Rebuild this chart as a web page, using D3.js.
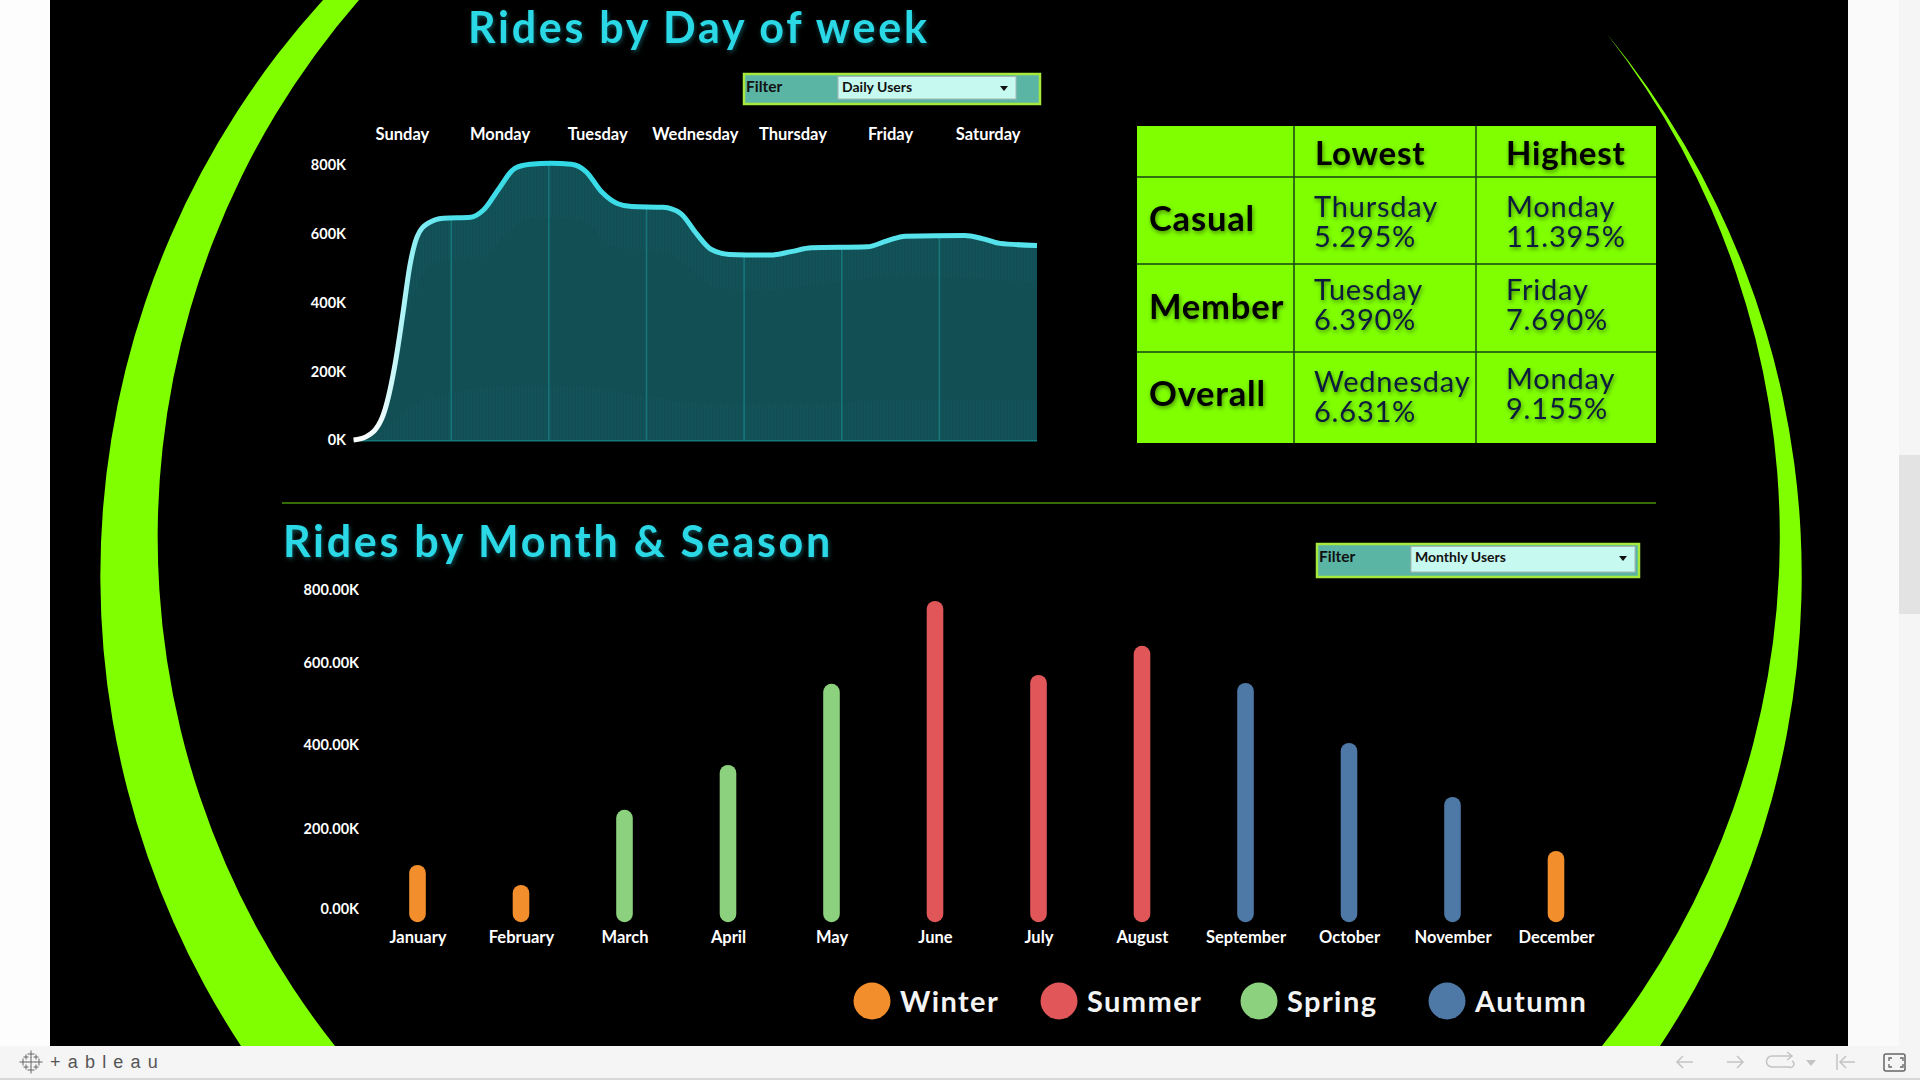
<!DOCTYPE html>
<html>
<head>
<meta charset="utf-8">
<script src="https://cdn.jsdelivr.net/npm/d3@7"></script>
<style>
	html, body { margin: 0; padding: 0; background: #fdfdfd; overflow: hidden; }
	svg { display: block; }
	text { font-family: Lato, sans-serif; }
	.axis text { fill: #fff; font-weight: 700; font-size: 16.5px; }
	.yaxis text { fill: #fff; font-weight: 700; font-size: 14.5px; }
	.title { fill: #2bd8e6; font-weight: 700; font-size: 43px; letter-spacing: 2.7px; filter: drop-shadow(1px 2px 2px rgba(43,216,230,.35)); }
	.cell { filter: drop-shadow(1px 2px 2px rgba(0,0,0,.45)); }
</style>
</head>
<body>
<svg id="board" width="1920" height="1080"></svg>
<script>
// top chart: position along the week (0 = start of Sunday, 7 = end of Saturday)
var ridePos = [0, 0.13, 0.29, 0.42, 0.5, 0.58, 0.65, 0.76, 0.92, 1.2, 1.33, 1.49, 1.65, 1.81, 2.02, 2.23, 2.38, 2.54, 2.7, 2.85, 3.17, 3.35, 3.51, 3.66, 3.85, 4.27, 4.48, 4.69, 5.26, 5.47, 5.65, 6.26, 6.44, 6.62, 7];
var rideVals = [2, 12, 65, 215, 360, 515, 593, 632, 647, 650, 671, 734, 792, 804, 807, 804, 783, 724, 690, 681, 679, 661, 603, 557, 542, 540, 550, 561, 564, 582, 595, 597, 588, 574, 568];

// faint layers inside the area
var casualPos = [0, 0.15, 0.29, 0.55, 0.82, 1.8, 2.34, 2.9, 3.7, 4.5, 5.5, 6.3, 7];
var casualVals = [0, 5, 30, 95, 128, 162, 158, 133, 108, 108, 118, 118, 118];
var memberPos = [0, 0.29, 0.45, 0.6, 0.82, 1.34, 1.6, 1.86, 2.33, 2.65, 3.22, 3.69, 4.11, 4.63, 5.52, 6.31, 7];
var memberVals = [0, 40, 220, 400, 515, 535, 612, 647, 642, 564, 545, 448, 438, 448, 477, 472, 458];

var days = ["Sunday", "Monday", "Tuesday", "Wednesday", "Thursday", "Friday", "Saturday"];
var dayTicks = [0, 200, 400, 600, 800];

// bottom chart
var months = ["January", "February", "March", "April", "May", "June", "July", "August", "September", "October", "November", "December"];
var monthVals = [102, 52, 240, 352, 555, 762, 577, 650, 557, 407, 272, 137];
var monthSeason = ["Winter", "Winter", "Spring", "Spring", "Spring", "Summer", "Summer", "Summer", "Autumn", "Autumn", "Autumn", "Winter"];
var monthTicks = [0, 200, 400, 600, 800];

var seasons = ["Winter", "Summer", "Spring", "Autumn"];
var seasonColors = ["#f28e2b", "#e15759", "#8cd17d", "#4e79a7"];

// table
var tableCols = ["", "Lowest", "Highest"];
var tableRows = ["Casual", "Member", "Overall"];
var lowDays = ["Thursday", "Tuesday", "Wednesday"];
var lowPct = ["5.295%", "6.390%", "6.631%"];
var highDays = ["Monday", "Friday", "Monday"];
var highPct = ["11.395%", "7.690%", "9.155%"];

const LIME = "#7fff00";
var svg = d3.select("#board");
var defs = svg.append("defs");

// page chrome
svg.append("rect").attr("x", 50).attr("width", 1798).attr("height", 1046).attr("fill", "#000");
svg.append("rect").attr("x", 1848).attr("width", 51).attr("height", 1046).attr("fill", "#fafafa");
svg.append("rect").attr("x", 1899).attr("width", 21).attr("height", 1046).attr("fill", "#f5f5f5");
svg.append("rect").attr("x", 1899).attr("y", 455).attr("width", 21).attr("height", 159).attr("fill", "#e3e3e3");

// crescents
svg.append("path").attr("fill", LIME)
	.attr("d", "M323,0 A856,856 0 0 0 241,1046 L335,1046 A818,818 0 0 1 359,0 Z");
svg.append("path").attr("fill", LIME)
	.attr("d", "M1607,34 A851,851 0 0 1 1660,1046 L1602,1046 A818,818 0 0 0 1607,34 Z");

function draw_filter(x, y, w, h, selx, label)	{
	var g = svg.append("g");
	g.append("rect").attr("x", x + 1).attr("y", y + 1).attr("width", w - 2).attr("height", h - 2)
		.attr("fill", "#5bb5a5").attr("stroke", "#a6e83c").attr("stroke-width", 2.5);
	g.append("rect").attr("x", selx).attr("y", y + 3.5).attr("width", x + w - 5 - selx - (w > 310 ? 0 : 20)).attr("height", h - 9.5)
		.attr("fill", "#c6f9f0").attr("stroke", "#a9b5b3");
	g.append("text").attr("x", x + 3).attr("y", y + 19).attr("font-size", 15.5).attr("font-weight", 700).attr("fill", "#111").text("Filter");
	g.append("text").attr("x", selx + 4).attr("y", y + 19).attr("font-size", 14).attr("font-weight", 700).attr("fill", "#111").text(label);
	var ax = x + w - 5 - (w > 310 ? 0 : 20) - 12;
	g.append("path").attr("fill", "#111").attr("d", `M${ax - 4},${y + 13} h8 l-4,5 Z`);
}

// ---- rides by day of week ----
svg.append("text").attr("class", "title").attr("x", 468).attr("y", 42.5).text("Rides by Day of week");
draw_filter(743, 73, 298, 32, 838, "Daily Users");

var dx = d3.scaleLinear([0, 7], [353.6, 1037]);
var dy = d3.scaleLinear([0, 800], [440.7, 165.7]);
var dband = d3.scaleBand(days, [353.6, 1037]);

var rows = ridePos.map((p, i) => ({ p: p, v: rideVals[i] }));
var casualRows = casualPos.map((p, i) => ({ p: p, v: casualVals[i] }));
var memberRows = memberPos.map((p, i) => ({ p: p, v: memberVals[i] }));
var area = d3.area().x(d => dx(d.p)).y0(dy(0)).y1(d => dy(d.v)).curve(d3.curveMonotoneX);
var line = d3.line().x(d => dx(d.p)).y(d => dy(d.v)).curve(d3.curveMonotoneX);

var stripes = defs.append("pattern").attr("id", "stripes").attr("patternUnits", "userSpaceOnUse").attr("width", 3.2).attr("height", 10);
stripes.append("rect").attr("width", 1.2).attr("height", 10).attr("fill", "#1c7076").attr("opacity", .14);

var grad = defs.append("linearGradient").attr("id", "linegrad").attr("gradientUnits", "userSpaceOnUse")
	.attr("x1", dx(0)).attr("x2", dx(7)).attr("y1", 0).attr("y2", 0);
[[0, "#ffffff"], [.04, "#eefcfd"], [.09, "#8eeef3"], [.14, "#4fe2ec"], [.28, "#2dd8e4"], [.4, "#3fdde8"], [.55, "#56e3ec"], [1, "#56e3ec"]].forEach(s => {
	grad.append("stop").attr("offset", s[0]).attr("stop-color", s[1]);
});

// the picture has a striped top band and foot band, plain in between
[[rows, true], [memberRows, false], [casualRows, true]].forEach(l => {
	svg.append("path").datum(l[0]).attr("fill", "#114f55").attr("d", area);
	if(l[1])
		svg.append("path").datum(l[0]).attr("fill", "url(#stripes)").attr("d", area);
});

var cut = days.slice(1).map((d, i) => i + 1);
var gridTop = p => {
	var i = d3.bisector(d => d.p).left(rows, p);
	return dy(rows[Math.min(i, rows.length - 1)].v);
};
svg.selectAll(".dayline").data(cut).join("line").attr("class", "dayline")
	.attr("x1", d => dx(d)).attr("x2", d => dx(d))
	.attr("y1", d => gridTop(d)).attr("y2", dy(0))
	.attr("stroke", "#17787c").attr("stroke-width", 1.5);
svg.append("line").attr("x1", dx(0)).attr("x2", dx(7)).attr("y1", dy(0)).attr("y2", dy(0))
	.attr("stroke", "#17787c").attr("stroke-width", 1.5);
svg.append("path").datum(rows).attr("fill", "none").attr("stroke", "url(#linegrad)").attr("stroke-width", 5).attr("d", line);

svg.append("g").attr("class", "yaxis").attr("transform", "translate(352,-0.5)")
	.call(d3.axisLeft(dy).tickValues(dayTicks).tickSize(0).tickPadding(6).tickFormat(d => d + "K"))
	.call(g => g.select(".domain").remove());
svg.append("g").attr("class", "axis").attr("transform", "translate(0,140)")
	.call(d3.axisTop(dband).tickSize(0).tickPadding(0))
	.call(g => g.select(".domain").remove());

// ---- table ----
var colX = [1137, 1294, 1476, 1656];
var rowY = [126, 177, 264, 352, 443];
var tg = svg.append("g");
tg.append("rect").attr("x", colX[0]).attr("y", rowY[0]).attr("width", colX[3] - colX[0]).attr("height", rowY[4] - rowY[0]).attr("fill", LIME);
tg.selectAll(".vrule").data(colX.slice(1, 3)).join("line").attr("x1", d => d).attr("x2", d => d)
	.attr("y1", rowY[0]).attr("y2", rowY[4]).attr("stroke", "#16401a").attr("stroke-width", 1.5);
tg.selectAll(".hrule").data(rowY.slice(1, 4)).join("line").attr("y1", d => d).attr("y2", d => d)
	.attr("x1", colX[0]).attr("x2", colX[3]).attr("stroke", "#16401a").attr("stroke-width", 1.5);

function cell(x, y, size, weight, color, str)	{
	tg.append("text").attr("class", "cell").attr("x", x).attr("y", y).attr("font-size", size)
		.attr("font-weight", weight).attr("fill", color).attr("letter-spacing", .8).text(str);
}
cell(1315, 165, 33, 700, "#000", tableCols[1]);
cell(1506, 165, 33, 700, "#000", tableCols[2]);
var labelBase = [231, 319, 406];
var lowBase = [217, 300, 392];
var highBase = [217, 300, 389];
tableRows.forEach((r, i) => {
	cell(1149, labelBase[i], 34.5, 700, "#000", r);
	cell(1314, lowBase[i], 29, 400, "#0c1c3c", lowDays[i]);
	cell(1314, lowBase[i] + 30, 29, 400, "#0c1c3c", lowPct[i]);
	cell(1506, highBase[i], 29, 400, "#0c1c3c", highDays[i]);
	cell(1506, highBase[i] + 30, 29, 400, "#0c1c3c", highPct[i]);
});

svg.append("line").attr("x1", 282).attr("x2", 1656).attr("y1", 503).attr("y2", 503)
	.attr("stroke", "#6ad808").attr("stroke-width", 1.2);

// ---- rides by month ----
svg.append("text").attr("class", "title").attr("x", 283).attr("y", 557).text("Rides by Month & Season");
draw_filter(1316, 543, 324, 35, 1411, "Monthly Users");

var mx = d3.scalePoint(months, [417.5, 1556]);
var my = d3.scaleLinear([0, 800], [914, 594]);
// tick labels are not evenly spaced in the picture, so the axis gets its own scale
var mtick = d3.scaleLinear(monthTicks, [909, 829, 745, 663, 590]);
var season = d3.scaleOrdinal(seasons, seasonColors);

svg.selectAll(".bar").data(months).join("line").attr("class", "bar")
	.attr("x1", d => mx(d)).attr("x2", d => mx(d))
	.attr("y1", my(0))
	.attr("y2", (d, i) => my(monthVals[i]))
	.attr("stroke", (d, i) => season(monthSeason[i]))
	.attr("stroke-width", 16.6).attr("stroke-linecap", "round");

svg.append("g").attr("class", "yaxis").attr("transform", "translate(365,0)")
	.call(d3.axisLeft(mtick).tickValues(monthTicks).tickSize(0).tickPadding(6).tickFormat(d => d.toFixed(2) + "K"))
	.call(g => g.select(".domain").remove());
svg.append("g").attr("class", "axis").attr("transform", "translate(0,931)")
	.call(d3.axisBottom(mx).tickSize(0).tickPadding(0))
	.call(g => g.select(".domain").remove());

// legend
var legX = d3.scaleOrdinal(seasons, [872, 1059, 1259, 1447]);
var leg = svg.selectAll(".leg").data(seasons).join("g").attr("class", "leg")
	.attr("transform", d => `translate(${legX(d)},1001)`);
leg.append("circle").attr("r", 18.5).attr("fill", d => season(d));
leg.append("text").attr("x", 28).attr("y", 11).attr("font-size", 29).attr("font-weight", 700)
	.attr("letter-spacing", 1.4).attr("fill", "#f4f4f4").text(d => d);

// ---- tableau footer ----
var foot = svg.append("g");
foot.append("rect").attr("y", 1046).attr("width", 1920).attr("height", 32).attr("fill", "#f5f5f5");
foot.append("rect").attr("y", 1078).attr("width", 1920).attr("height", 2).attr("fill", "#d8d8d8");
foot.append("text").attr("x", 50).attr("y", 1068).attr("font-size", 18).attr("letter-spacing", 7.2)
	.attr("style", "font-family:'Liberation Sans'").attr("fill", "#555").text("+ableau");
[[0, -8, 3.5], [0, 8, 3.5], [-8, 0, 3.5], [8, 0, 3.5], [0, 0, 5], [-5, -5, 2.5], [5, -5, 2.5], [-5, 5, 2.5], [5, 5, 2.5]].forEach(m => {
	foot.append("path").attr("stroke", "#666").attr("stroke-width", 1).attr("fill", "none")
		.attr("d", `M${31 + m[0] - m[2]},${1062 + m[1]} h${m[2] * 2} M${31 + m[0]},${1062 + m[1] - m[2]} v${m[2] * 2}`);
});
var navIcons = [
	"M1693,1062 h-16 m6,-6 l-6,6 l6,6",
	"M1727,1062 h16 m-6,-6 l6,6 l-6,6",
	"M1792,1056 h-20 a3,3 0 0 0 0,11 h17 a3,3 0 0 0 3,-6 M1787,1052 l5,4 l-5,4",
	"M1837,1054 v16 M1855,1062 h-15 m6,-6 l-6,6 l6,6"
];
navIcons.forEach(d => {
	foot.append("path").attr("d", d).attr("fill", "none").attr("stroke", "#c4c4c4").attr("stroke-width", 1.5);
});
foot.append("path").attr("d", "M1806,1060 h10 l-5,6 Z").attr("fill", "#c4c4c4");
foot.append("rect").attr("x", 1884).attr("y", 1054).attr("width", 21).attr("height", 17).attr("rx", 2)
	.attr("fill", "none").attr("stroke", "#666").attr("stroke-width", 1.5);
foot.append("path").attr("d", "M1889,1061 v-3 h3 M1900,1058 h3 v3 M1903,1064 v3 h-3 M1892,1067 h-3 v-3")
	.attr("fill", "none").attr("stroke", "#666").attr("stroke-width", 1.3);
</script>
</body>
</html>
